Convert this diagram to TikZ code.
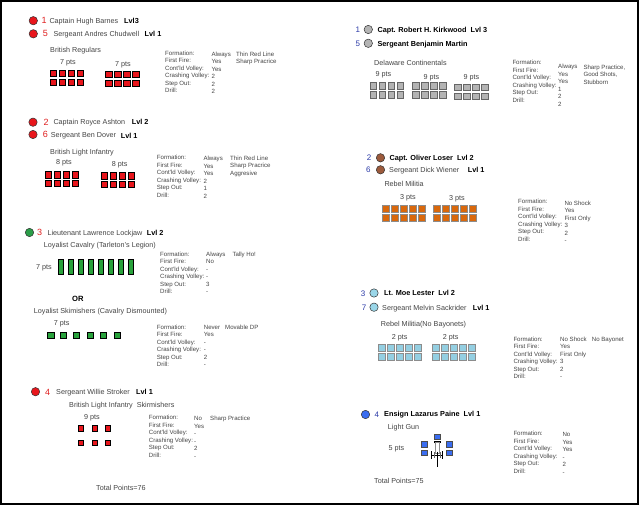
\documentclass[tikz,border=0pt]{standalone}
\usepackage{fontspec}
\setmainfont{Liberation Sans}
\definecolor{txtgray}{HTML}{444444}
\definecolor{numred}{HTML}{E02020}
\definecolor{numblue}{HTML}{2B3AA8}
\definecolor{cred}{HTML}{E8161C}
\definecolor{cgreen}{HTML}{2A9D48}
\definecolor{cgray}{HTML}{B4B4B4}
\definecolor{cbrown}{HTML}{9C5A3C}
\definecolor{clblue}{HTML}{9AD6E8}
\definecolor{cblue}{HTML}{3A6DF0}
\definecolor{sqorange}{HTML}{D9680C}
\definecolor{sqlblue}{HTML}{94CFE2}
\definecolor{sqgreen}{HTML}{29A23C}
\newcommand\statcol[5]{%
  \foreach \t [count=\i] in {#5} {\node[stat] (#1\i) at ({#2},{#3+(\i-1)*#4}) {\t};}}
\newcommand\sqgrid[8]{%
  \foreach \c in {1,...,#3} \foreach \r in {1,...,#4}
    \filldraw[#8] ({#1+(\c-1)*#5},{#2+(\r-1)*#6}) rectangle ++(#7,#7);}
\newcommand\statlabels[4]{\statcol{#1}{#2}{#3}{#4}{Formation:,First Fire:,Cont'ld Volley:,Crashing Volley:,Step Out:,Drill:}}
\begin{document}
\begin{tikzpicture}[x=1pt,y=-1pt,
  txt/.style={anchor=west,inner sep=0pt,text height=5.1pt,text depth=0pt,font=\fontsize{7.2}{8}\selectfont,text=txtgray},
  bold/.style={txt,font=\fontsize{7.3}{8}\selectfont\bfseries,text=black},
  stat/.style={anchor=west,inner sep=0pt,text height=4.3pt,text depth=0pt,font=\fontsize{6.1}{7}\selectfont,text=txtgray},
  rnum/.style={anchor=west,inner sep=0pt,text height=6.3pt,text depth=0pt,font=\fontsize{9}{10}\selectfont,text=numred},
  bnum/.style={anchor=west,inner sep=0pt,text height=5.7pt,text depth=0pt,font=\fontsize{8}{9}\selectfont,text=numblue},
  dot/.style={circle,draw=black!80,line width=0.5pt,minimum size=8.4pt,inner sep=0pt},
  redsq/.style={fill=cred,draw=black,line width=0.6pt},
  graysq/.style={fill=cgray,draw=black!60,line width=0.6pt},
  orsq/.style={fill=sqorange,draw=black!45,line width=0.6pt},
  lbsq/.style={fill=sqlblue,draw=black!45,line width=0.6pt},
  grsq/.style={fill=sqgreen,draw=black,line width=0.6pt},
  blsq/.style={fill=cblue,draw=black!70,line width=0.6pt}]
\useasboundingbox (0,0) rectangle (640,506);
\fill[white] (0,0) rectangle (640,506);
\draw[line width=2pt] (1,1) rectangle (638.2,503.7);

% ---------- left 1
\node[dot,fill=cred] (c1) at (33.3,20.7) {};
\node[rnum] (n1) at (41.5,20.7) {1};
\node[txt] (t1) at (49.3,20.7) {Captain Hugh Barnes};
\node[bold] (l1) at (124,20.7) {Lvl3};
\node[dot,fill=cred] (c5) at (33.3,33.8) {};
\node[rnum] (n5) at (42.7,33.8) {5};
\node[txt] (t5) at (53.3,33.8) {Sergeant Andres Chudwell};
\node[bold] (l5) at (144.5,33.8) {Lvl 1};
\node[txt] (u1) at (50,50) {British Regulars};
\node[txt] (p1a) at (60,62.3) {7 pts};
\node[txt] (p1b) at (115,64) {7 pts};
\sqgrid{50}{70}{4}{2}{9}{9}{6.5}{redsq}
\sqgrid{105.7}{71}{4}{2}{9}{9}{6.5}{redsq}
\statlabels{a}{165}{53.3}{7.47}
\statcol{av}{211.3}{54.3}{7.47}{Always,Yes,Yes,2,2,2}
\statcol{ax}{236}{54.3}{7.47}{Thin Red Line,Sharp Pracrice}

% ---------- left 2
\node[dot,fill=cred] (c2) at (33,122.2) {};
\node[rnum] (n2) at (43.3,122.3) {2};
\node[txt] (t2) at (53.3,122.3) {Captain Royce Ashton};
\node[bold] (l2) at (131.7,122.3) {Lvl 2};
\node[dot,fill=cred] (c6) at (33,134.5) {};
\node[rnum] (n6) at (42.7,134.7) {6};
\node[txt] (t6) at (50.7,134.7) {Sergeant Ben Dover};
\node[bold] (l6) at (120.7,135.7) {Lvl 1};
\node[txt] (u2) at (50,151.7) {British Light Infantry};
\node[txt] (p2a) at (56,162.3) {8 pts};
\node[txt] (p2b) at (111.7,164.3) {8 pts};
\sqgrid{45.3}{171.7}{4}{2}{9}{8.6}{6.3}{redsq}
\sqgrid{101}{172.7}{4}{2}{9}{8.6}{6.3}{redsq}
\statlabels{b}{156.7}{157.7}{7.45}
\statcol{bv}{203.3}{158.7}{7.45}{Always,Yes,Yes,2,1,2}
\statcol{bx}{230}{158.3}{7.4}{Thin Red Line,Sharp Pracrice,Aggresive}

% ---------- left 3
\node[dot,fill=cgreen] (c3) at (29.5,232.5) {};
\node[rnum] (n3) at (37,232.7) {3};
\node[txt] (t3) at (47.3,232.7) {Lieutenant Lawrence Lockjaw};
\node[bold] (l3) at (146.7,232.7) {Lvl 2};
\node[txt] (u3) at (43.7,245.3) {Loyalist Cavalry (Tarleton's Legion)};
\node[txt] (p3a) at (36,267) {7 pts};
\foreach \i in {0,...,7} \filldraw[grsq] ({58.3+10*\i},259) rectangle ++(5.2,15.5);
\statlabels{c}{160}{254}{7.5}
\statcol{cv}{206}{254}{7.5}{Always,No,-,-,3,-}
\node[stat] (cx) at (232.3,254) {Tally Ho!};
\node[bold,font=\fontsize{7.6}{8}\selectfont\bfseries] (or) at (72,298.7) {OR};
\node[txt] (u3b) at (33.7,310.7) {Loyalist Skimishers (Cavalry Dismounted)};
\node[txt] (p3b) at (53.7,322.7) {7 pts};
\foreach \xx in {47.7,60,73.3,87.3,100,114} \filldraw[grsq] (\xx,332.3) rectangle ++(6.3,6.3);
\statlabels{d}{156.7}{327.3}{7.5}
\statcol{dv}{203.7}{327.3}{7.5}{Never,Yes,-,-,2,-}
\node[stat] (dx) at (225,327.3) {Movable DP};

% ---------- left 4
\node[dot,fill=cred] (c4) at (35.5,391.7) {};
\node[rnum] (n4) at (45,392) {4};
\node[txt] (t4) at (56,392) {Sergeant Willie Stroker};
\node[bold] (l4) at (136,392) {Lvl 1};
\node[txt] (u4) at (69,404.7) {British Light Infantry~ Skirmishers};
\node[txt] (p4) at (84,417) {9 pts};
\foreach \xx in {78,92,105} {\filldraw[redsq] (\xx,425.7) rectangle ++(5.5,5.5);
  \filldraw[redsq] (\xx,440) rectangle ++(5.5,5.5);}
\statlabels{e}{148.7}{417.7}{7.5}
\statcol{ev}{194}{418.7}{7.5}{No,Yes,-,-,2,-}
\node[stat] (ex) at (210,418) {Sharp Practice};
\node[txt] (tot1) at (96,488.3) {Total Points=76};

% ---------- right 1
\node[bnum] (m1) at (355.5,30) {1};
\node[dot,fill=cgray] (d1) at (368.3,29.5) {};
\node[bold] (s1) at (377.3,30) {Capt. Robert H. Kirkwood~ Lvl 3};
\node[bnum] (m5) at (355.5,44) {5};
\node[dot,fill=cgray] (d5) at (368.3,43.3) {};
\node[bold] (s5) at (377.3,44) {Sergeant Benjamin Martin};
\node[txt] (v1) at (374,62.7) {Delaware Continentals};
\node[txt] (q1a) at (375.3,74) {9 pts};
\node[txt] (q1b) at (423.3,76.7) {9 pts};
\node[txt] (q1c) at (463.3,76.7) {9 pts};
\sqgrid{370}{82.7}{4}{2}{9}{9}{6.5}{graysq}
\sqgrid{412.3}{82.7}{4}{2}{9}{9}{6.5}{graysq}
\sqgrid{454.3}{84}{4}{2}{9}{9}{6.5}{graysq}
\statlabels{f}{512.3}{62.7}{7.45}
\statcol{fv}{558}{66.7}{7.45}{Always,Yes,Yes,1,2,2}
\statcol{fx}{583.3}{67.3}{7.3}{{Sharp Practice,},{Good Shots,},Stubborn}

% ---------- right 2
\node[bnum] (m2) at (366.7,157.7) {2};
\node[dot,fill=cbrown] (d2) at (380.5,157.8) {};
\node[bold] (s2) at (389.3,157.7) {Capt. Oliver Loser~ Lvl 2};
\node[bnum] (m6) at (366,169.7) {6};
\node[dot,fill=cbrown] (d6) at (380.5,169.8) {};
\node[txt] (s6) at (389,169.7) {Sergeant Dick Wiener};
\node[bold] (k6) at (467.7,170) {Lvl 1};
\node[txt] (v2) at (384.3,183.7) {Rebel Militia};
\node[txt] (q2a) at (400,197.3) {3 pts};
\node[txt] (q2b) at (449,198.3) {3 pts};
\sqgrid{382.7}{205.7}{5}{2}{9}{9}{6.5}{orsq}
\sqgrid{433.3}{205.7}{5}{2}{9}{9}{6.5}{orsq}
\statlabels{g}{518}{201.7}{7.47}
\statcol{gv}{564.3}{203.3}{7.47}{No Shock,Yes,First Only,3,2,-}

% ---------- right 3
\node[bnum] (m3) at (360.7,293.3) {3};
\node[dot,fill=clblue] (d3) at (374,293) {};
\node[bold] (s3) at (384,293.3) {Lt. Moe Lester~ Lvl 2};
\node[bnum] (m7) at (361.7,307.3) {7};
\node[dot,fill=clblue] (d7) at (374,307.2) {};
\node[txt] (s7) at (382,307.5) {Sergeant Melvin Sackrider};
\node[bold] (k7) at (472.7,308) {Lvl 1};
\node[txt] (v3) at (380.7,324.3) {Rebel Militia(No Bayonets)};
\node[txt] (q3a) at (391.7,337.3) {2 pts};
\node[txt] (q3b) at (442.7,337.3) {2 pts};
\sqgrid{378.3}{344.3}{5}{2}{9}{9}{6.5}{lbsq}
\sqgrid{432.3}{344.3}{5}{2}{9}{9}{6.5}{lbsq}
\statlabels{h}{513.3}{339}{7.5}
\statcol{hv}{560}{339.3}{7.5}{No Shock,Yes,First Only,3,2,-}
\node[stat] (hx) at (591.7,339.3) {No Bayonet};

% ---------- right 4
\node[dot,fill=cblue] (d4) at (365.5,414.5) {};
\node[bnum] (m4) at (374.3,414.3) {4};
\node[bold] (s4) at (384,414.3) {Ensign Lazarus Paine~ Lvl 1};
\node[txt] (v4) at (387.7,426.7) {Light Gun};
\node[txt] (q4) at (388.3,448.3) {5 pts};
\filldraw[blsq] (434.3,434) rectangle ++(5.7,5.7);
\filldraw[blsq] (421.7,441.7) rectangle ++(5.6,5.6);
\filldraw[blsq] (421.7,450) rectangle ++(5.6,5.6);
\filldraw[blsq] (446.7,441.7) rectangle ++(5.6,5.6);
\filldraw[blsq] (446.7,450) rectangle ++(5.6,5.6);
\draw[black!45,line width=0.6pt] (435.5,442) rectangle (439.5,453);
\draw[black,line width=0.7pt] (434,443.3) -- (434,441.7) -- (440.3,441.7) -- (440.3,443.3);
\draw[black,line width=0.6pt] (431,455) -- (443,455);
\draw[black,line width=0.6pt] (431.7,451) -- (431.7,459) (442.3,451) -- (442.3,459);
\draw[black!60,line width=0.5pt] (434.2,452) -- (434.2,458) (440,452) -- (440,458);
\draw[black,line width=1.4pt] (437.3,451.5) -- (437.3,466.5);
\statlabels{i}{513.3}{433.3}{7.6}
\statcol{iv}{562.3}{434.3}{7.6}{No,Yes,Yes,-,2,-}
\node[txt] (tot2) at (374,480.7) {Total Points=75};
\end{tikzpicture}
\end{document}
